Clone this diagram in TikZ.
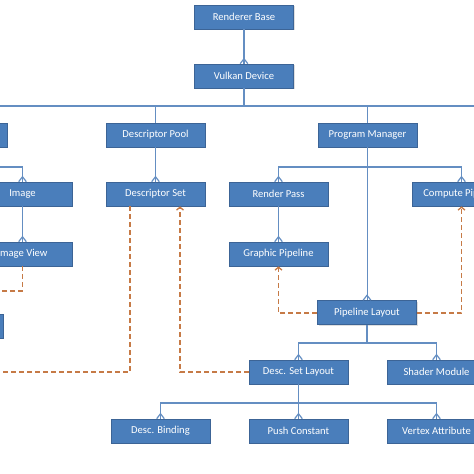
\documentclass[tikz,border=0pt]{standalone}
\usepackage{fontspec}
\setmainfont{Carlito}
\usetikzlibrary{arrows.meta,shadows}
\definecolor{boxfill}{RGB}{74,126,187}
\definecolor{boxline}{RGB}{60,100,150}
\definecolor{linkcol}{RGB}{100,142,194}
\definecolor{dashcol}{RGB}{198,122,70}
\tikzset{
  box/.style={rectangle, fill=boxfill, draw=boxline, line width=0.6pt,
    minimum width=99pt, minimum height=24pt, inner sep=0pt,
    text=white, font=\fontsize{10.6}{12}\selectfont,
    drop shadow={shadow xshift=1pt, shadow yshift=-1.2pt, opacity=0.25}},
  link/.style={draw=linkcol, line width=1.2pt},
  dep/.style={draw=dashcol, line width=1.3pt, dash pattern=on 5pt off 3pt},
  deptip/.style={-{Straight Barb[length=3pt,width=7pt]}},
}
\newcommand\crowat[1]{\draw[link, line join=round] ([xshift=-3.8pt]#1.north) -- ([yshift=5pt]#1.north) -- ([xshift=3.8pt]#1.north);}
\begin{document}
\begin{tikzpicture}[x=1pt,y=-1pt]
\useasboundingbox (0,0) rectangle (474,474);
\clip (0,0) rectangle (474,474);
% nodes
\node[box] (rb) at (244,17) {Renderer Base};
\node[box] (vd) at (244,76) {Vulkan Device};
\node[box] (l0) at (-42.5,135) {};
\node[box] (dp) at (155.5,135) {Descriptor Pool};
\node[box] (pm) at (367.5,135) {Program Manager};
\node[box] (img) at (22.5,194) {Image};
\node[box] (ds) at (155.5,194) {Descriptor Set};
\node[box] (rp) at (278.5,194) {Render Pass};
\node[box] (cp) at (461.5,194) {Compute Pipeline};
\node[box] (iv) at (22.5,254) {Image View};
\node[box] (gp) at (278.5,254) {Graphic Pipeline};
\node[box] (pl) at (367,312.5) {Pipeline Layout};
\node[box] (l1) at (-46.5,326) {};
\node[box] (dsl) at (298.5,372) {Desc. Set Layout};
\node[box] (sm) at (436.5,372) {Shader Module};
\node[box] (db) at (160.5,431) {Desc. Binding};
\node[box] (pc) at (298.5,431) {Push Constant};
\node[box] (va) at (436.5,431) {Vertex Attribute};
% free ends and junctions
\coordinate (busL) at (0,106);
\coordinate (busR) at (474,106);
\coordinate (busM) at (244,106);
\coordinate (imgL) at (0,167);
\coordinate (pmJ) at (367.5,167);
\coordinate (plJ) at (367,343);
\coordinate (dslJ) at (298.5,403);
\coordinate (ivL) at (0,291);
\coordinate (dsL) at (0,372);
% tree links
\draw[link] (rb.south) -- (vd.north); \crowat{vd}
\draw[link] (vd.south) -- (busM);
\draw[link] (busL) -- (busR);
\draw[link] (dp.north) -- (dp.north |- busM);
\draw[link] (pm.north) -- (pm.north |- busM);
\draw[link] (dp.south) -- (ds.north); \crowat{ds}
\draw[link] (imgL) -| (img.north); \crowat{img}
\draw[link] (img.south) -- (iv.north); \crowat{iv}
\draw[link] (pm.south) -- (pl.north -| pm.south); \crowat{pl}
\draw[link] (rp.north) |- (pmJ) -| (cp.north); \crowat{rp} \crowat{cp}
\draw[link] (rp.south) -- (gp.north); \crowat{gp}
\draw[link] (pl.south) -- (plJ);
\draw[link] (dsl.north) |- (plJ) -| (sm.north); \crowat{dsl} \crowat{sm}
\draw[link] (dsl.south) -- (dslJ);
\draw[link] (db.north) |- (dslJ) -| (va.north); \draw[link] (pc.north) -- (dslJ);
\crowat{db} \crowat{pc} \crowat{va}
% dependencies
\draw[dep] (iv.south) |- (ivL);
\draw[dep] ([xshift=-25.5pt]ds.south) |- (dsL);
\draw[dep, deptip] (dsl.west) -| ([xshift=24.5pt]ds.south);
\draw[dep, deptip] ([yshift=-0.5pt]pl.west) -| (gp.south);
\draw[dep, deptip] ([yshift=-0.5pt]pl.east) -| (cp.south);
\end{tikzpicture}
\end{document}
